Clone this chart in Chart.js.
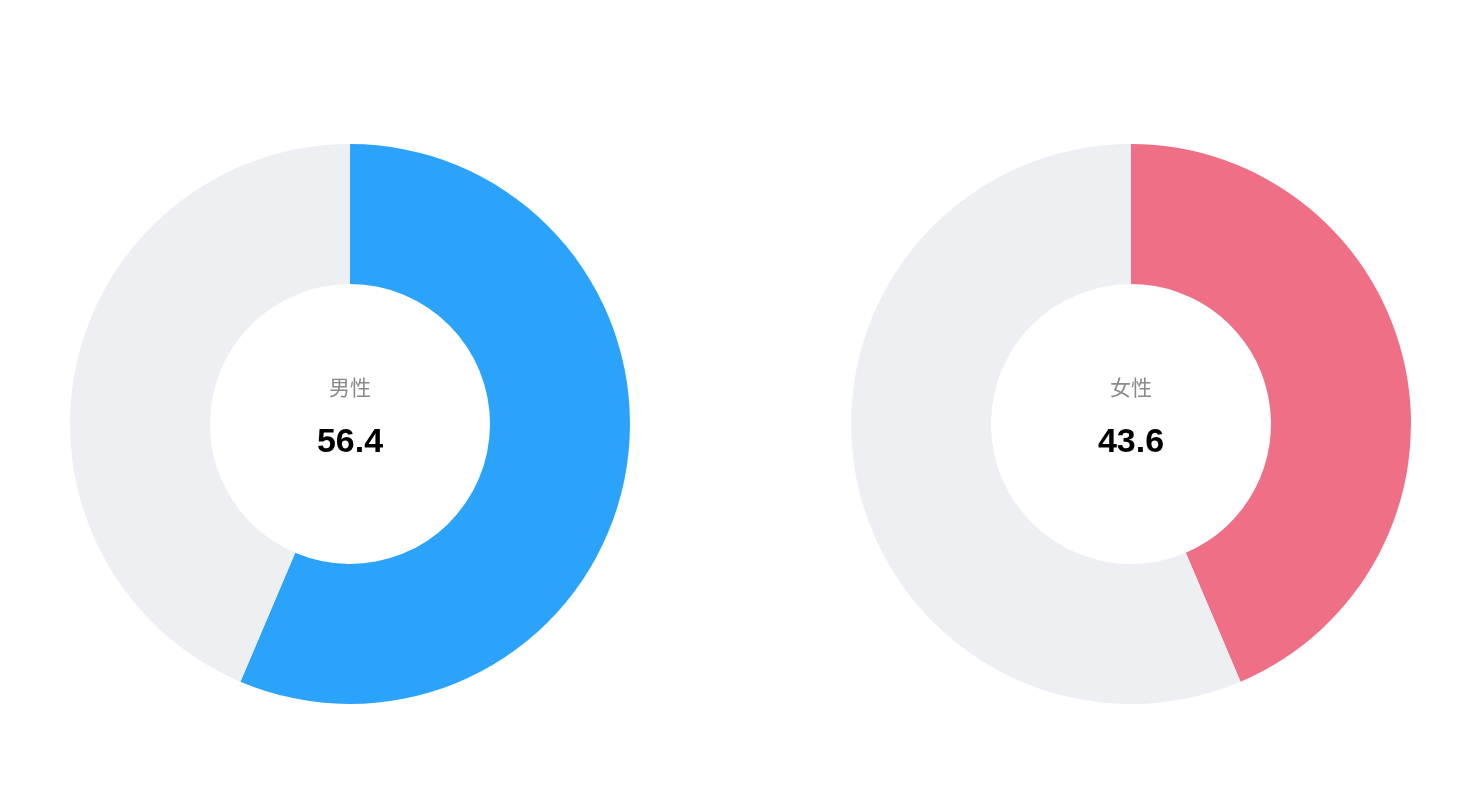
<!DOCTYPE html>
<html><head><meta charset="utf-8">
<script src="https://cdn.jsdelivr.net/npm/chart.js@4/dist/chart.umd.min.js"></script>
<style>
body{margin:0;background:#fff;width:1474px;height:804px;position:relative;overflow:hidden}
canvas{position:absolute}
</style></head><body>
<canvas id="c1" width="560" height="560" style="left:70px;top:144px"></canvas>
<canvas id="c2" width="560" height="560" style="left:851px;top:144px"></canvas>
<script>
const labels = ["男性", "女性"];
const values = [56.4, 43.6];
const colors = ["#2ca3fb", "#ef6f86"];
const restColor = "#eeeff3";

const centerText = {
  id: 'centerText',
  afterDraw(chart, args, opts) {
    const ctx = chart.ctx;
    const m = chart.getDatasetMeta(0).data[0];
    const x = m.x, y = m.y;
    ctx.save();
    ctx.textAlign = 'center';
    ctx.textBaseline = 'middle';
    ctx.fillStyle = '#8a8a8a';
    ctx.font = '21px "Noto Sans CJK SC", sans-serif';
    ctx.fillText(opts.label, x, y - 37);
    ctx.fillStyle = '#000';
    ctx.font = 'bold 34px "Liberation Sans", Arial, sans-serif';
    ctx.fillText(opts.value, x, y + 19);
    ctx.restore();
  }
};

['c1','c2'].forEach((id, i) => {
  new Chart(document.getElementById(id), {
    type: 'doughnut',
    data: {
      labels: [labels[i], ''],
      datasets: [{
        data: [values[i], 100 - values[i]],
        backgroundColor: [colors[i], restColor],
        borderWidth: 0
      }]
    },
    options: {
      responsive: false,
      animation: false,
      cutout: '50%',
      plugins: {
        legend: {display: false},
        tooltip: {enabled: false},
        centerText: {label: labels[i], value: values[i].toFixed(1)}
      }
    },
    plugins: [centerText]
  });
});
</script>
</body></html>
